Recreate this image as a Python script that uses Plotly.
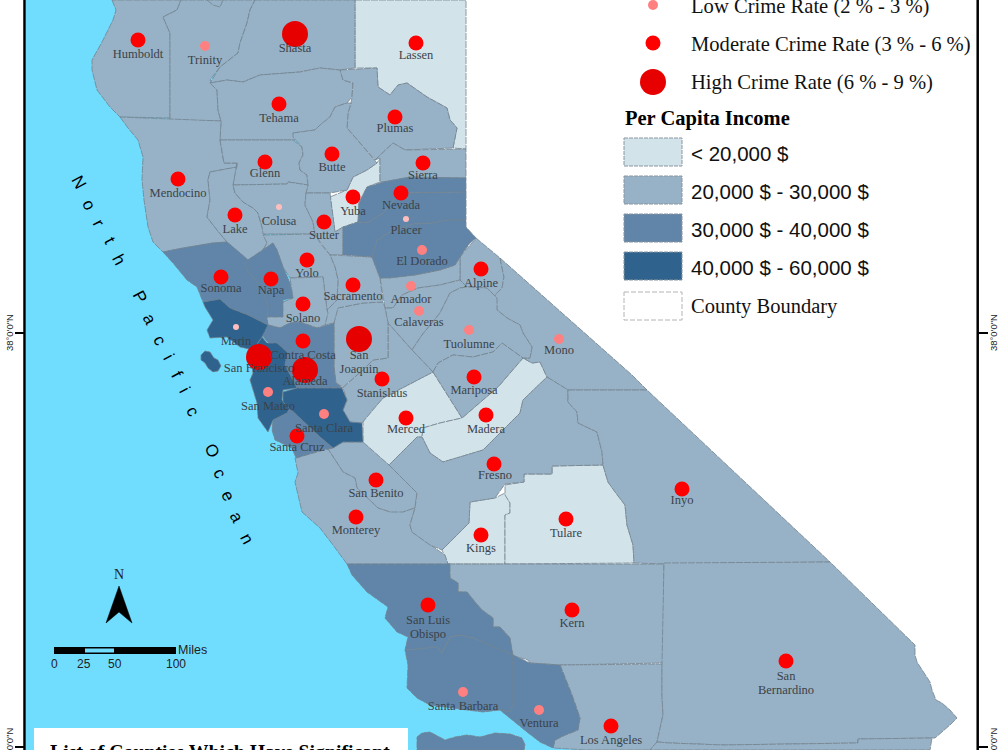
import plotly.graph_objects as go

# colours
OCEAN = "#70DDFF"
INCOME_COLORS = ["#D2E4EA", "#97B2C6", "#6085A8", "#2F628C"]
BOUNDARY = "#74838F"

# county outlines, in map units
humboldt = [(112,0),(116,10),(113,20),(102,42),(92,60),(92,70),(97,90),(110,107),(120,117),(170,118),(170,33),(163,17),(177,10),(181,0)]
trinity = [(181,0),(255,0),(250,10),(247,23),(240,43),(238,53),(220,67),(210,80),(217,90),(218,110),(221,121),(170,120),(170,33),(163,17),(177,10)]
siskiyou = [(207,0),(213,5),(220,7),(223,0)]
shasta = [(255,0),(355,0),(355,68),(340,70),(320,68),(300,72),(260,75),(243,82),(227,80),(210,83),(220,67),(238,53),(240,43),(247,23),(250,10)]
lassen = [(355,0),(466,0),(466,149),(453,148),(457,128),(450,120),(447,108),(427,97),(407,83),(398,85),(390,95),(378,87),(377,68),(355,68)]
tehama = [(210,83),(227,80),(243,82),(260,75),(300,72),(320,68),(340,70),(343,80),(353,83),(352,97),(347,103),(335,107),(330,117),(320,125),(315,130),(293,133),(295,140),(220,140),(221,121),(218,110),(217,90)]
plumas = [(340,70),(377,68),(378,87),(390,95),(398,85),(407,83),(427,97),(447,108),(450,120),(457,128),(453,148),(405,150),(393,143),(375,160),(347,128),(348,113),(351,103),(352,97),(353,83),(343,80)]
sierra = [(375,160),(393,143),(405,150),(453,149),(466,149),(466,178),(410,177),(383,182),(380,182),(380,158)]
mendocino = [(120,117),(128,128),(138,140),(143,157),(142,180),(144,200),(148,227),(153,242),(163,252),(183,248),(213,243),(227,242),(217,230),(207,217),(210,200),(208,180),(210,172),(237,167),(237,163),(224,163),(220,140),(221,121)]
glenn = [(220,140),(293,140),(302,147),(303,155),(299,163),(300,170),(307,175),(308,185),(288,182),(287,184),(233,185),(237,163),(224,163)]
butte = [(293,133),(315,130),(320,125),(330,117),(335,107),(347,103),(351,103),(348,113),(347,128),(375,160),(377,163),(367,170),(353,177),(347,190),(330,193),(306,193),(308,185),(307,175),(300,170),(299,163),(303,155),(302,147),(293,137)]
lake = [(210,172),(237,167),(237,163),(233,185),(235,193),(243,202),(253,208),(258,213),(262,227),(265,235),(267,243),(263,250),(248,260),(240,253),(227,242),(217,230),(207,217),(210,200),(208,180)]
colusa = [(233,185),(287,184),(288,182),(308,185),(306,193),(305,205),(313,222),(315,234),(263,234),(262,227),(258,213),(253,208),(243,202),(235,193)]
sutter = [(306,193),(330,193),(335,232),(343,227),(343,255),(330,255),(320,242),(315,234),(313,222),(305,205)]
yuba = [(380,158),(380,182),(367,187),(359,203),(358,222),(343,227),(335,232),(330,197),(347,190),(353,177),(367,170),(377,163)]
nevada = [(383,182),(410,177),(466,178),(466,192),(400,193),(383,213),(367,223),(358,222),(359,203),(367,187)]
placer = [(358,222),(367,223),(383,213),(400,193),(466,192),(466,220),(447,220),(433,223),(413,224),(390,232),(377,240),(372,257),(343,255),(343,227)]
el_dorado = [(372,257),(377,240),(390,232),(413,224),(433,223),(447,220),(466,220),(466,227),(476,238),(470,243),(460,257),(455,265),(440,270),(415,275),(390,278),(380,278)]
alpine = [(460,257),(476,238),(500,258),(504,277),(502,288),(497,298),(487,288),(467,287),(460,280)]
mono = [(500,258),(632,375),(647,390),(568,390),(547,377),(540,362),(532,363),(523,358),(530,358),(532,347),(523,333),(520,325),(507,318),(497,310),(495,295),(502,288),(504,277)]
amador = [(380,278),(415,275),(440,270),(455,265),(460,257),(460,280),(440,285),(418,288),(402,295),(393,308),(385,308)]
calaveras = [(385,308),(393,308),(402,295),(418,288),(440,285),(460,280),(467,287),(460,288),(450,293),(440,313),(422,335),(412,350),(388,323)]
tuolumne = [(412,350),(422,335),(440,313),(450,293),(460,288),(467,287),(487,288),(497,298),(497,310),(507,318),(520,325),(523,333),(532,347),(530,358),(523,358),(502,343),(493,352),(473,357),(453,355),(438,363),(433,372)]
mariposa = [(433,372),(438,363),(453,355),(473,357),(493,352),(502,343),(523,358),(498,387),(462,418)]
madera = [(462,418),(498,387),(523,358),(532,363),(540,362),(547,377),(523,400),(520,413),(508,425),(500,433),(483,450),(460,457),(443,462),(430,453),(422,437),(423,428),(440,423)]
merced = [(433,372),(462,418),(440,423),(423,428),(422,437),(417,437),(389,465),(363,445),(363,420),(383,398)]
stanislaus = [(343,388),(363,370),(373,360),(388,358),(388,323),(412,350),(433,372),(383,398),(362,423),(350,422),(343,410),(347,400)]
san_joaquin = [(337,308),(363,303),(383,302),(385,308),(388,323),(388,358),(373,360),(363,370),(343,387),(336,383),(334,367),(334,323)]
sacramento = [(330,255),(372,257),(380,278),(383,302),(363,303),(338,308),(334,323),(325,325),(327,310),(337,300),(338,280),(335,267)]
yolo = [(263,235),(315,234),(320,243),(330,255),(335,267),(338,280),(337,300),(327,310),(323,277),(290,278),(283,267),(277,250),(273,243),(263,250),(267,243)]
solano = [(265,317),(280,310),(283,302),(293,298),(290,278),(323,277),(327,310),(328,313),(325,325),(317,328),(300,322),(290,323),(280,328),(268,325)]
napa = [(248,260),(263,250),(273,243),(277,250),(283,267),(290,283),(293,298),(283,300),(283,317),(267,317),(268,305),(260,285),(248,272),(245,263)]
sonoma = [(163,252),(183,248),(213,243),(227,242),(240,253),(248,260),(245,263),(248,272),(260,285),(268,305),(267,317),(268,325),(248,315),(230,308),(220,299),(203,302),(197,287),(187,280),(173,263)]
marin = [(203,302),(220,299),(230,308),(248,315),(268,325),(262,337),(253,350),(240,347),(227,337),(210,338),(207,330),(213,320),(205,307)]
farallon = [(201,355),(205,351),(210,352),(214,358),(218,360),(221,366),(218,371),(213,372),(208,368),(205,363),(201,360)]
contra_costa = [(268,325),(280,328),(290,323),(300,322),(317,328),(334,323),(334,367),(336,383),(343,388),(297,388),(283,375),(273,365),(263,358),(270,345),(262,335)]
san_mateo = [(253,350),(262,337),(267,343),(277,343),(287,352),(285,365),(297,388),(283,390),(282,400),(290,408),(287,413),(273,420),(268,432),(258,418),(257,403),(250,380),(253,373),(250,358)]
santa_clara = [(283,392),(297,388),(342,388),(347,400),(343,410),(350,422),(362,423),(363,442),(343,442),(333,448),(320,437),(305,423),(290,408),(283,402)]
santa_cruz = [(273,420),(287,413),(290,408),(305,423),(320,437),(333,448),(323,450),(296,458),(292,448),(275,440),(272,430)]
san_benito = [(333,448),(343,442),(363,442),(389,465),(417,493),(415,508),(403,512),(408,522),(405,522),(390,512),(378,508),(357,488),(355,478),(343,472),(328,449)]
monterey = [(295,458),(323,450),(328,449),(343,472),(355,478),(357,488),(378,508),(390,512),(403,512),(415,508),(410,525),(412,532),(430,545),(445,555),(448,564),(347,564),(333,545),(320,528),(302,512),(298,495),(295,482),(298,473)]
fresno = [(547,377),(568,390),(568,402),(577,412),(578,423),(597,432),(602,452),(603,465),(552,466),(552,474),(524,474),(524,482),(505,484),(495,498),(470,502),(469,523),(442,550),(430,545),(412,532),(410,525),(415,508),(417,493),(389,465),(417,437),(422,437),(430,453),(443,462),(460,457),(483,450),(500,433),(508,425),(520,413),(523,400)]
tulare = [(505,485),(524,482),(524,474),(552,474),(552,466),(603,465),(608,482),(615,492),(625,505),(627,525),(633,545),(634,563),(505,564),(505,515),(510,513),(510,503),(505,495)]
kings = [(442,550),(469,523),(470,502),(495,498),(505,493),(510,503),(510,513),(505,515),(505,564),(448,564)]
inyo = [(568,390),(647,390),(830,562),(664,564),(634,563),(633,545),(627,525),(625,505),(615,492),(608,482),(603,465),(602,452),(597,432),(578,423),(577,412),(568,402)]
kern = [(448,564),(664,564),(664,663),(560,665),(530,663),(528,660),(510,655),(510,638),(500,627),(493,627),(493,618),(482,610),(475,602),(467,592),(458,592),(458,583),(450,578)]
san_luis_obispo = [(347,564),(450,564),(450,578),(458,583),(458,592),(467,592),(475,602),(482,610),(493,618),(493,627),(500,627),(510,638),(513,655),(500,650),(473,638),(460,635),(450,637),(442,653),(437,647),(408,650),(405,650),(408,637),(397,632),(385,618),(388,607),(367,592),(352,575)]
santa_barbara = [(405,650),(408,650),(437,647),(442,653),(450,637),(460,635),(473,638),(500,650),(513,655),(513,705),(510,712),(500,710),(483,712),(467,710),(450,708),(430,705),(417,698),(407,688),(408,665)]
ventura = [(513,655),(530,663),(560,665),(572,695),(580,718),(578,730),(565,735),(555,740),(553,748),(540,742),(527,732),(510,718),(500,710),(510,712),(513,705)]
los_angeles = [(560,665),(662,664),(662,695),(663,715),(657,742),(650,750),(587,750),(553,748),(555,740),(565,735),(578,730),(580,718),(572,695)]
san_bernardino = [(664,563),(830,562),(915,645),(915,655),(917,662),(921,668),(925,675),(930,682),(932,690),(936,700),(942,703),(950,710),(957,718),(950,725),(935,738),(858,739),(858,743),(723,745),(670,743),(657,742),(663,715),(662,695),(662,664)]
riverside = [(657,742),(670,743),(723,745),(858,743),(858,739),(932,738),(930,750),(650,750)]
channel_islands = [(417,737),(422,733),(430,732),(437,736),(445,740),(455,737),(467,735),(480,737),(495,733),(510,734),(522,738),(525,745),(524,750),(417,750)]
ocean = [(26,0),(300,0),(300,460),(400,600),(470,690),(560,720),(590,750),(26,750)]

# income class per county: 0 lowest .. 3 highest
low_income = [lassen, yuba, merced, madera, kings, tulare]
mid_income = [humboldt, trinity, siskiyou, shasta, tehama, plumas, sierra, mendocino, glenn, butte, lake, colusa, sutter, alpine, mono,
              amador, calaveras, tuolumne, mariposa, stanislaus, san_joaquin, sacramento, yolo, solano, san_benito, monterey, fresno,
              inyo, kern, los_angeles, san_bernardino, riverside]
high_income = [nevada, placer, el_dorado, napa, sonoma, contra_costa, santa_cruz, san_luis_obispo, santa_barbara, ventura, channel_islands]
top_income = [marin, farallon, san_mateo, santa_clara]

# crime points: 0 very low, 1 low, 2 moderate, 3 high
crime_names = ["Shasta","Humboldt","Trinity","Lassen","Tehama","Plumas","Butte","Glenn","Sierra","Mendocino","Nevada","Yuba","Lake","Colusa","Sutter","Placer","El Dorado","Yolo","Alpine","Sonoma","Napa","Sacramento","Amador","Solano","Calaveras","Marin","Contra Costa","San Joaquin","Tuolumne","Mono","San Francisco","Alameda","Stanislaus","Mariposa","San Mateo","Santa Clara","Merced","Madera","Santa Cruz","Fresno","San Benito","Inyo","Monterey","Tulare","Kings","San Luis Obispo","Kern","San Bernardino","Santa Barbara","Ventura","Los Angeles"]
crime_x = [295,138,205,416,279,395,332,265,423,178,401,353,235,279,324,406,422,307,481,221,271,353,411,303,419,236,303,359,469,559,259,305,382,474,268,324,406,486,297,494,376,682,356,566,481,428,572,786,463,539,611]
crime_y = [34,40,46,43,104,117,154,162,163,179,193,197,215,207,222,219,250,260,269,277,279,285,286,304,311,327,341,339,330,339,357,370,379,377,392,414,418,415,436,464,480,489,517,519,535,605,610,661,692,710,726]
crime_class = [3,2,1,2,2,2,2,2,2,2,2,2,2,0,2,0,1,2,2,2,2,2,1,2,1,0,2,3,1,1,3,3,2,2,1,1,2,2,2,2,2,2,2,2,2,2,2,2,1,1,2]
CLASS_SIZE = [6, 10, 15, 26]
CLASS_COLOR = ["#FFBEBE", "#FF8080", "#FF0000", "#E60000"]

label_text = ["Shasta","Humboldt","Trinity","Lassen","Tehama","Plumas","Butte","Glenn","Sierra","Mendocino","Nevada","Yuba","Lake","Colusa","Sutter","Placer","El Dorado","Yolo","Alpine","Sonoma","Napa","Sacramento","Amador","Solano","Calaveras","Marin","Contra Costa","San","Joaquin","Tuolumne","Mono","San Francisco","Alameda","Stanislaus","Mariposa","San Mateo","Santa Clara","Merced","Madera","Santa Cruz","Fresno","San Benito","Inyo","Monterey","Tulare","Kings","San Luis","Obispo","Kern","San","Bernardino","Santa Barbara","Ventura","Los Angeles"]
label_x = [295,138,205,416,279,395,332,265,423,178,401,353,235,279,324,406,422,307,481,221,271,353,411,303,419,236,303,359,359,469,559,259,305,382,474,268,324,406,486,297,495,376,682,356,566,481,428,428,572,786,786,463,539,611]
label_y = [49,55,61,56,119,129,168,174,176,194,206,212,230,222,236,231,262,274,284,289,291,297,300,319,323,342,356,356,370,345,351,369,382,394,391,407,429,430,430,448,476,494,501,531,534,549,621,635,624,677,691,707,724,741]

ocean_letters = list("NorthPacificOcean")
ocean_x = [79,89,99,110,119,140,150,160,169,177,185,193,212,220,228,237,247]
ocean_y = [182,204,223,240,259,296,319,340,357,374,390,411,450,473,495,517,538]

legend_circle_y = [5, 43, 82]
legend_circle_size = [10, 15, 26]
legend_circle_color = ["#FF8080", "#FF0000", "#E60000"]
legend_crime_text = ["Low Crime Rate (2 % - 3 %)", "Moderate Crime Rate (3 % - 6 %)", "High Crime Rate (6 % - 9 %)"]
legend_income_text = ["< 20,000 $", "20,000 $ - 30,000 $", "30,000 $ - 40,000 $", "40,000 $ - 60,000 $"]
legend_income_y = [153, 191, 229, 267]

scale_labels = ["0", "25", "50", "100"]
scale_x = [54, 84, 114.5, 175.5]

SERIF = "Liberation Serif"
SANS = "Liberation Sans"

fig = go.Figure()


def add_poly(pts, color, line=BOUNDARY):
    fig.add_trace(go.Scatter(
        x=[p[0] for p in pts] + [pts[0][0]],
        y=[p[1] for p in pts] + [pts[0][1]],
        mode="lines", fill="toself", fillcolor=color,
        line=dict(color=line, width=0.8, dash="7px,1px"),
        hoverinfo="skip", showlegend=False))


fig.add_trace(go.Scatter(x=[p[0] for p in ocean], y=[p[1] for p in ocean], mode="lines", fill="toself",
                         fillcolor=OCEAN, line=dict(width=0), hoverinfo="skip", showlegend=False))

for color, group in zip(INCOME_COLORS, [low_income, mid_income, high_income, top_income]):
    for poly in group:
        add_poly(poly, color)

fig.add_trace(go.Scatter(
    x=crime_x, y=crime_y, mode="markers", text=crime_names, hoverinfo="text", showlegend=False,
    marker=dict(size=[CLASS_SIZE[c] for c in crime_class], color=[CLASS_COLOR[c] for c in crime_class], line=dict(width=0), opacity=1)))

fig.add_trace(go.Scatter(
    x=label_x, y=label_y, mode="text", text=label_text, textposition="middle center",
    textfont=dict(family=SERIF, size=12.5, color="#3B4249"), hoverinfo="skip", showlegend=False))

# legend circles
fig.add_trace(go.Scatter(
    x=[653, 653, 653], y=legend_circle_y, mode="markers", hoverinfo="skip", showlegend=False,
    marker=dict(size=legend_circle_size, color=legend_circle_color, line=dict(width=0), opacity=1)))

# north arrow
fig.add_trace(go.Scatter(x=[119, 106, 119, 132, 119], y=[586, 623, 612, 623, 586], mode="lines", fill="toself",
                         fillcolor="black", line=dict(color="black", width=0.5), hoverinfo="skip", showlegend=False))

notes = []


def note(x, y, text, size, family=SERIF, color="#111111", anchor="left", angle=0, yanchor="middle"):
    notes.append(dict(x=x, y=y, text=text, xref="x", yref="y", showarrow=False, xanchor=anchor, yanchor=yanchor,
                      textangle=angle, font=dict(family=family, size=size, color=color)))


for t, y in zip(legend_crime_text, [6, 44, 82]):
    note(689, y, t, 20.6)
note(623, 118, "<b>Per Capita Income</b>", 20.5, color="#000000")
for t, y in zip(legend_income_text, legend_income_y):
    note(689, y, t, 20.5, family=SANS)
note(689, 306, "County Boundary", 20.5)

for ch, x, y in zip(ocean_letters, ocean_x, ocean_y):
    note(x, y, ch, 17, family=SANS, color="#000000", anchor="center", angle=62)

note(119, 574, "N", 14, color="#222222", anchor="center")
note(176, 650, "Miles", 12.5, family=SANS, color="#222222")
for t, x in zip(scale_labels, scale_x):
    note(x, 664, t, 12, family=SANS, color="#222222", anchor="center")

note(9, 333, "38°0'0\"N", 9.5, family=SANS, color="#222222", anchor="center", angle=-90)
note(993, 333, "38°0'0\"N", 9.5, family=SANS, color="#222222", anchor="center", angle=-90)
note(9, 749, "35°20'0\"N", 9.5, family=SANS, color="#222222", anchor="center", angle=-90)
note(993, 749, "35°20'0\"N", 9.5, family=SANS, color="#222222", anchor="center", angle=-90)

note(220, 738, "<b>List of Counties Which Have Significant</b>", 19.8, color="#000000", anchor="center", yanchor="top")

shapes = []


def rect(x0, y0, x1, y1, fill, line=None, dash=None):
    shapes.append(dict(type="rect", xref="x", yref="y", x0=x0, y0=y0, x1=x1, y1=y1, fillcolor=fill, layer="above",
                       line=dict(color=line or fill, width=1 if line else 0, dash=dash or "solid")))


for c, y in zip(INCOME_COLORS, legend_income_y):
    rect(624, y - 15, 682, y + 13, c, "#8A96A0", "4px,1px")
rect(624, 292, 682, 320, "white", "#B4B4B4", "5px,2px")

# map frame and ticks
for x0, x1 in [(24.5, 24.5), (977.7, 977.7)]:
    shapes.append(dict(type="line", xref="x", yref="y", x0=x0, x1=x1, y0=0, y1=750, line=dict(color="black", width=2.5)))
for x0, x1, y in [(15, 24, 333), (978, 988, 333), (15, 24, 747), (978, 988, 747)]:
    shapes.append(dict(type="line", xref="x", yref="y", x0=x0, x1=x1, y0=y, y1=y, line=dict(color="black", width=2)))

# scale bar and title box
rect(54, 647, 176, 654, "black")
rect(85, 648.5, 114, 652.5, OCEAN)
rect(34, 728, 408, 750, "white")

fig.update_layout(
    width=1000, height=750, margin=dict(l=0, r=0, t=0, b=0),
    paper_bgcolor="white", plot_bgcolor="white", showlegend=False,
    xaxis=dict(range=[0, 1000], visible=False, fixedrange=True),
    yaxis=dict(range=[750, 0], visible=False, fixedrange=True),
    annotations=notes, shapes=shapes)

# page margin off so the figure fills the window
fig.write_html("out.html", config={"displayModeBar": False}, post_script="document.body.style.margin='0';")
